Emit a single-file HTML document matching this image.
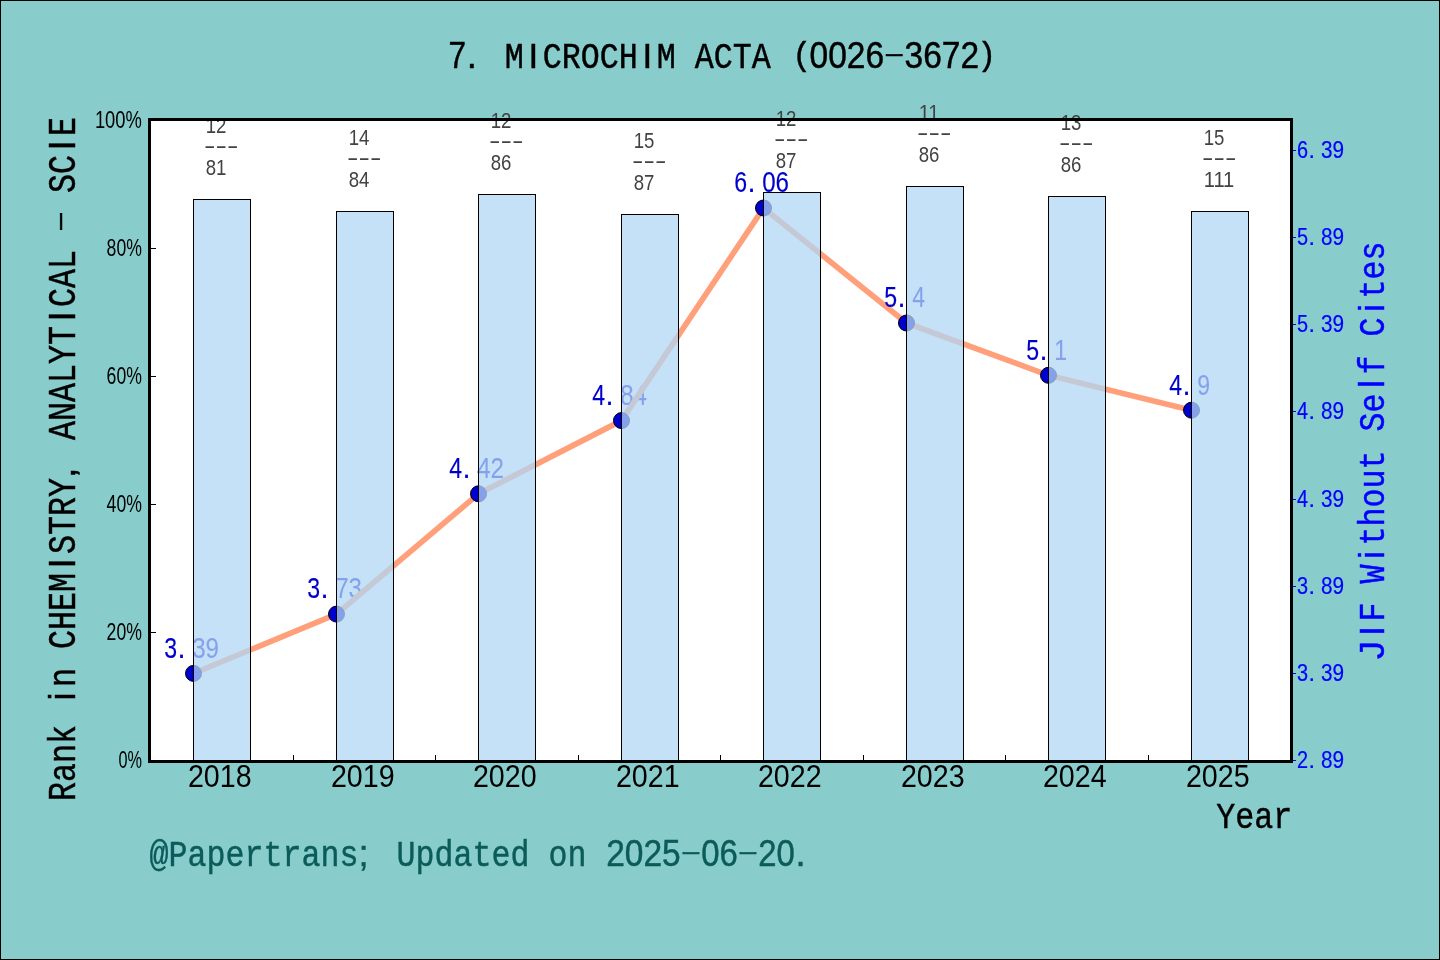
<!DOCTYPE html>
<html lang="en"><head><meta charset="utf-8"><title>7. MICROCHIM ACTA (0026-3672)</title>
<style>
html,body{margin:0;padding:0;background:#88cccc;overflow:hidden}
svg{display:block}text{white-space:pre}
.m{font-family:'Liberation Mono', 'DejaVu Sans Mono', monospace}
.s{font-family:'Liberation Sans', 'DejaVu Sans', sans-serif}
</style>
</head><body>
<svg width="1440" height="960" viewBox="0 0 1440 960">
<rect x="0" y="0" width="1440" height="960" fill="#88cccc"/>
<rect x="0.5" y="0.5" width="1439" height="959" fill="none" stroke="#000" stroke-width="1"/>
<rect x="149.5" y="119.5" width="1142.0" height="642.0" fill="#fff"/>
<text fill="#0000cd" stroke="#0000cd" stroke-width="0.15"><tspan class="s" x="164.18" y="657.75" font-size="29" textLength="12.84" lengthAdjust="spacingAndGlyphs">3</tspan><tspan class="s" x="177.6" y="657.75" font-size="29">.</tspan><tspan class="s" x="192.18" y="657.75" font-size="29" textLength="26.84" lengthAdjust="spacingAndGlyphs">39</tspan></text>
<line x1="193.5" y1="673.4" x2="336.5" y2="614.1" stroke="#ffa07a" stroke-width="5.7" stroke-linecap="round"/>
<text fill="#0000cd" stroke="#0000cd" stroke-width="0.15"><tspan class="s" x="307.18" y="598.49" font-size="29" textLength="12.84" lengthAdjust="spacingAndGlyphs">3</tspan><tspan class="s" x="320.6" y="598.49" font-size="29">.</tspan><tspan class="s" x="335.18" y="598.49" font-size="29" textLength="26.84" lengthAdjust="spacingAndGlyphs">73</tspan></text>
<line x1="336.5" y1="614.1" x2="478.5" y2="493.8" stroke="#ffa07a" stroke-width="5.7" stroke-linecap="round"/>
<text fill="#0000cd" stroke="#0000cd" stroke-width="0.15"><tspan class="s" x="449.18" y="478.23" font-size="29" textLength="12.84" lengthAdjust="spacingAndGlyphs">4</tspan><tspan class="s" x="462.6" y="478.23" font-size="29">.</tspan><tspan class="s" x="477.18" y="478.23" font-size="29" textLength="26.84" lengthAdjust="spacingAndGlyphs">42</tspan></text>
<line x1="478.5" y1="493.8" x2="621.5" y2="420.6" stroke="#ffa07a" stroke-width="5.7" stroke-linecap="round"/>
<text fill="#0000cd" stroke="#0000cd" stroke-width="0.15"><tspan class="s" x="592.18" y="405.03" font-size="29" textLength="12.84" lengthAdjust="spacingAndGlyphs">4</tspan><tspan class="s" x="605.6" y="405.03" font-size="29">.</tspan><tspan class="s" x="620.18" y="405.03" font-size="29" textLength="26.84" lengthAdjust="spacingAndGlyphs">84</tspan></text>
<line x1="621.5" y1="420.6" x2="763.5" y2="208.0" stroke="#ffa07a" stroke-width="5.7" stroke-linecap="round"/>
<text fill="#0000cd" stroke="#0000cd" stroke-width="0.15"><tspan class="s" x="734.18" y="192.39" font-size="29" textLength="12.84" lengthAdjust="spacingAndGlyphs">6</tspan><tspan class="s" x="747.6" y="192.39" font-size="29">.</tspan><tspan class="s" x="762.18" y="192.39" font-size="29" textLength="26.84" lengthAdjust="spacingAndGlyphs">06</tspan></text>
<line x1="763.5" y1="208.0" x2="906.5" y2="323.0" stroke="#ffa07a" stroke-width="5.7" stroke-linecap="round"/>
<text fill="#0000cd" stroke="#0000cd" stroke-width="0.15"><tspan class="s" x="884.18" y="307.43" font-size="29" textLength="12.84" lengthAdjust="spacingAndGlyphs">5</tspan><tspan class="s" x="897.6" y="307.43" font-size="29">.</tspan><tspan class="s" x="912.18" y="307.43" font-size="29" textLength="12.84" lengthAdjust="spacingAndGlyphs">4</tspan></text>
<line x1="906.5" y1="323.0" x2="1048.5" y2="375.3" stroke="#ffa07a" stroke-width="5.7" stroke-linecap="round"/>
<text fill="#0000cd" stroke="#0000cd" stroke-width="0.15"><tspan class="s" x="1026.18" y="359.71" font-size="29" textLength="12.84" lengthAdjust="spacingAndGlyphs">5</tspan><tspan class="s" x="1039.6" y="359.71" font-size="29">.</tspan><tspan class="s" x="1054.18" y="359.71" font-size="29" textLength="12.84" lengthAdjust="spacingAndGlyphs">1</tspan></text>
<line x1="1048.5" y1="375.3" x2="1191.5" y2="410.2" stroke="#ffa07a" stroke-width="5.7" stroke-linecap="round"/>
<text fill="#0000cd" stroke="#0000cd" stroke-width="0.15"><tspan class="s" x="1169.18" y="394.57" font-size="29" textLength="12.84" lengthAdjust="spacingAndGlyphs">4</tspan><tspan class="s" x="1182.6" y="394.57" font-size="29">.</tspan><tspan class="s" x="1197.18" y="394.57" font-size="29" textLength="12.84" lengthAdjust="spacingAndGlyphs">9</tspan></text>
<circle cx="193.5" cy="673.4" r="8" fill="#0000cd" stroke="#000" stroke-width="1"/>
<circle cx="336.5" cy="614.1" r="8" fill="#0000cd" stroke="#000" stroke-width="1"/>
<circle cx="478.5" cy="493.8" r="8" fill="#0000cd" stroke="#000" stroke-width="1"/>
<circle cx="621.5" cy="420.6" r="8" fill="#0000cd" stroke="#000" stroke-width="1"/>
<circle cx="763.5" cy="208.0" r="8" fill="#0000cd" stroke="#000" stroke-width="1"/>
<circle cx="906.5" cy="323.0" r="8" fill="#0000cd" stroke="#000" stroke-width="1"/>
<circle cx="1048.5" cy="375.3" r="8" fill="#0000cd" stroke="#000" stroke-width="1"/>
<circle cx="1191.5" cy="410.2" r="8" fill="#0000cd" stroke="#000" stroke-width="1"/>
<rect x="193.5" y="199.5" width="57.0" height="561.0" fill="#b2d7f5" fill-opacity="0.75" stroke="none"/>
<rect x="193.5" y="199.5" width="57.0" height="561.0" fill="none" stroke="#000" stroke-width="1"/>
<rect x="336.5" y="211.5" width="57.0" height="549.0" fill="#b2d7f5" fill-opacity="0.75" stroke="none"/>
<rect x="336.5" y="211.5" width="57.0" height="549.0" fill="none" stroke="#000" stroke-width="1"/>
<rect x="478.5" y="194.5" width="57.0" height="566.0" fill="#b2d7f5" fill-opacity="0.75" stroke="none"/>
<rect x="478.5" y="194.5" width="57.0" height="566.0" fill="none" stroke="#000" stroke-width="1"/>
<rect x="621.5" y="214.5" width="57.0" height="546.0" fill="#b2d7f5" fill-opacity="0.75" stroke="none"/>
<rect x="621.5" y="214.5" width="57.0" height="546.0" fill="none" stroke="#000" stroke-width="1"/>
<rect x="763.5" y="192.5" width="57.0" height="568.0" fill="#b2d7f5" fill-opacity="0.75" stroke="none"/>
<rect x="763.5" y="192.5" width="57.0" height="568.0" fill="none" stroke="#000" stroke-width="1"/>
<rect x="906.5" y="186.5" width="57.0" height="574.0" fill="#b2d7f5" fill-opacity="0.75" stroke="none"/>
<rect x="906.5" y="186.5" width="57.0" height="574.0" fill="none" stroke="#000" stroke-width="1"/>
<rect x="1048.5" y="196.5" width="57.0" height="564.0" fill="#b2d7f5" fill-opacity="0.75" stroke="none"/>
<rect x="1048.5" y="196.5" width="57.0" height="564.0" fill="none" stroke="#000" stroke-width="1"/>
<rect x="1191.5" y="211.5" width="57.0" height="549.0" fill="#b2d7f5" fill-opacity="0.75" stroke="none"/>
<rect x="1191.5" y="211.5" width="57.0" height="549.0" fill="none" stroke="#000" stroke-width="1"/>
<text class="s" font-size="21.4" fill="#424242"><tspan x="205.7" y="132.8" textLength="20.7" lengthAdjust="spacingAndGlyphs">12</tspan><tspan x="204.1" y="152.5" textLength="34.4" lengthAdjust="spacingAndGlyphs">---</tspan><tspan x="205.7" y="175.1" textLength="20.7" lengthAdjust="spacingAndGlyphs">81</tspan></text>
<text class="s" font-size="21.4" fill="#424242"><tspan x="348.7" y="144.8" textLength="20.7" lengthAdjust="spacingAndGlyphs">14</tspan><tspan x="347.1" y="164.5" textLength="34.4" lengthAdjust="spacingAndGlyphs">---</tspan><tspan x="348.7" y="187.1" textLength="20.7" lengthAdjust="spacingAndGlyphs">84</tspan></text>
<text class="s" font-size="21.4" fill="#424242"><tspan x="490.7" y="127.8" textLength="20.7" lengthAdjust="spacingAndGlyphs">12</tspan><tspan x="489.1" y="147.5" textLength="34.4" lengthAdjust="spacingAndGlyphs">---</tspan><tspan x="490.7" y="170.1" textLength="20.7" lengthAdjust="spacingAndGlyphs">86</tspan></text>
<text class="s" font-size="21.4" fill="#424242"><tspan x="633.7" y="147.8" textLength="20.7" lengthAdjust="spacingAndGlyphs">15</tspan><tspan x="632.1" y="167.5" textLength="34.4" lengthAdjust="spacingAndGlyphs">---</tspan><tspan x="633.7" y="190.1" textLength="20.7" lengthAdjust="spacingAndGlyphs">87</tspan></text>
<text class="s" font-size="21.4" fill="#424242"><tspan x="775.7" y="125.8" textLength="20.7" lengthAdjust="spacingAndGlyphs">12</tspan><tspan x="774.1" y="145.5" textLength="34.4" lengthAdjust="spacingAndGlyphs">---</tspan><tspan x="775.7" y="168.1" textLength="20.7" lengthAdjust="spacingAndGlyphs">87</tspan></text>
<text class="s" font-size="21.4" fill="#424242"><tspan x="918.7" y="119.8" textLength="20.7" lengthAdjust="spacingAndGlyphs">11</tspan><tspan x="917.1" y="139.5" textLength="34.4" lengthAdjust="spacingAndGlyphs">---</tspan><tspan x="918.7" y="162.1" textLength="20.7" lengthAdjust="spacingAndGlyphs">86</tspan></text>
<text class="s" font-size="21.4" fill="#424242"><tspan x="1060.7" y="129.8" textLength="20.7" lengthAdjust="spacingAndGlyphs">13</tspan><tspan x="1059.1" y="149.5" textLength="34.4" lengthAdjust="spacingAndGlyphs">---</tspan><tspan x="1060.7" y="172.1" textLength="20.7" lengthAdjust="spacingAndGlyphs">86</tspan></text>
<text class="s" font-size="21.4" fill="#424242"><tspan x="1203.7" y="144.8" textLength="20.7" lengthAdjust="spacingAndGlyphs">15</tspan><tspan x="1202.1" y="164.5" textLength="34.4" lengthAdjust="spacingAndGlyphs">---</tspan><tspan x="1203.7" y="187.1" textLength="30.6" lengthAdjust="spacingAndGlyphs">111</tspan></text>
<line x1="149.5" y1="760.5" x2="156.0" y2="760.5" stroke="#000" stroke-width="1"/>
<line x1="149.5" y1="632.5" x2="156.0" y2="632.5" stroke="#000" stroke-width="1"/>
<line x1="149.5" y1="504.5" x2="156.0" y2="504.5" stroke="#000" stroke-width="1"/>
<line x1="149.5" y1="376.5" x2="156.0" y2="376.5" stroke="#000" stroke-width="1"/>
<line x1="149.5" y1="248.5" x2="156.0" y2="248.5" stroke="#000" stroke-width="1"/>
<line x1="149.5" y1="120.5" x2="156.0" y2="120.5" stroke="#000" stroke-width="1"/>
<line x1="293.5" y1="761.5" x2="293.5" y2="755.0" stroke="#000" stroke-width="1"/>
<line x1="435.5" y1="761.5" x2="435.5" y2="755.0" stroke="#000" stroke-width="1"/>
<line x1="578.5" y1="761.5" x2="578.5" y2="755.0" stroke="#000" stroke-width="1"/>
<line x1="720.5" y1="761.5" x2="720.5" y2="755.0" stroke="#000" stroke-width="1"/>
<line x1="863.5" y1="761.5" x2="863.5" y2="755.0" stroke="#000" stroke-width="1"/>
<line x1="1005.5" y1="761.5" x2="1005.5" y2="755.0" stroke="#000" stroke-width="1"/>
<line x1="1148.5" y1="761.5" x2="1148.5" y2="755.0" stroke="#000" stroke-width="1"/>
<line x1="1291.5" y1="760.5" x2="1296.0" y2="760.5" stroke="#0000ff" stroke-width="1"/>
<line x1="1291.5" y1="673.5" x2="1296.0" y2="673.5" stroke="#0000ff" stroke-width="1"/>
<line x1="1291.5" y1="586.5" x2="1296.0" y2="586.5" stroke="#0000ff" stroke-width="1"/>
<line x1="1291.5" y1="499.5" x2="1296.0" y2="499.5" stroke="#0000ff" stroke-width="1"/>
<line x1="1291.5" y1="411.5" x2="1296.0" y2="411.5" stroke="#0000ff" stroke-width="1"/>
<line x1="1291.5" y1="324.5" x2="1296.0" y2="324.5" stroke="#0000ff" stroke-width="1"/>
<line x1="1291.5" y1="237.5" x2="1296.0" y2="237.5" stroke="#0000ff" stroke-width="1"/>
<line x1="1291.5" y1="150.5" x2="1296.0" y2="150.5" stroke="#0000ff" stroke-width="1"/>
<rect x="149.5" y="119.5" width="1142.0" height="642.0" fill="none" stroke="#000" stroke-width="3"/>
<text class="s" x="141.9" y="767.8" text-anchor="end" font-size="23.4" fill="#000" textLength="23.5" lengthAdjust="spacingAndGlyphs">0%</text>
<text class="s" x="141.9" y="639.8" text-anchor="end" font-size="23.4" fill="#000" textLength="35.3" lengthAdjust="spacingAndGlyphs">20%</text>
<text class="s" x="141.9" y="511.8" text-anchor="end" font-size="23.4" fill="#000" textLength="35.3" lengthAdjust="spacingAndGlyphs">40%</text>
<text class="s" x="141.9" y="383.8" text-anchor="end" font-size="23.4" fill="#000" textLength="35.3" lengthAdjust="spacingAndGlyphs">60%</text>
<text class="s" x="141.9" y="255.8" text-anchor="end" font-size="23.4" fill="#000" textLength="35.3" lengthAdjust="spacingAndGlyphs">80%</text>
<text class="s" x="141.9" y="127.8" text-anchor="end" font-size="23.4" fill="#000" textLength="47.0" lengthAdjust="spacingAndGlyphs">100%</text>
<text class="s" x="219.8" y="786.9" text-anchor="middle" font-size="30.5" fill="#000" textLength="63.7" lengthAdjust="spacingAndGlyphs">2018</text>
<text class="s" x="362.8" y="786.9" text-anchor="middle" font-size="30.5" fill="#000" textLength="63.7" lengthAdjust="spacingAndGlyphs">2019</text>
<text class="s" x="504.8" y="786.9" text-anchor="middle" font-size="30.5" fill="#000" textLength="63.7" lengthAdjust="spacingAndGlyphs">2020</text>
<text class="s" x="647.8" y="786.9" text-anchor="middle" font-size="30.5" fill="#000" textLength="63.7" lengthAdjust="spacingAndGlyphs">2021</text>
<text class="s" x="789.8" y="786.9" text-anchor="middle" font-size="30.5" fill="#000" textLength="63.7" lengthAdjust="spacingAndGlyphs">2022</text>
<text class="s" x="932.8" y="786.9" text-anchor="middle" font-size="30.5" fill="#000" textLength="63.7" lengthAdjust="spacingAndGlyphs">2023</text>
<text class="s" x="1074.8" y="786.9" text-anchor="middle" font-size="30.5" fill="#000" textLength="63.7" lengthAdjust="spacingAndGlyphs">2024</text>
<text class="s" x="1217.8" y="786.9" text-anchor="middle" font-size="30.5" fill="#000" textLength="63.7" lengthAdjust="spacingAndGlyphs">2025</text>
<text fill="#0000ff" stroke="#0000ff" stroke-width="0.2"><tspan class="s" x="1296.97" y="767.75" font-size="23.3" textLength="11.07" lengthAdjust="spacingAndGlyphs">2</tspan><tspan class="s" x="1308.5" y="767.75" font-size="23.3">.</tspan><tspan class="s" x="1320.97" y="767.75" font-size="23.3" textLength="23.07" lengthAdjust="spacingAndGlyphs">89</tspan></text>
<text fill="#0000ff" stroke="#0000ff" stroke-width="0.2"><tspan class="s" x="1296.97" y="680.75" font-size="23.3" textLength="11.07" lengthAdjust="spacingAndGlyphs">3</tspan><tspan class="s" x="1308.5" y="680.75" font-size="23.3">.</tspan><tspan class="s" x="1320.97" y="680.75" font-size="23.3" textLength="23.07" lengthAdjust="spacingAndGlyphs">39</tspan></text>
<text fill="#0000ff" stroke="#0000ff" stroke-width="0.2"><tspan class="s" x="1296.97" y="593.75" font-size="23.3" textLength="11.07" lengthAdjust="spacingAndGlyphs">3</tspan><tspan class="s" x="1308.5" y="593.75" font-size="23.3">.</tspan><tspan class="s" x="1320.97" y="593.75" font-size="23.3" textLength="23.07" lengthAdjust="spacingAndGlyphs">89</tspan></text>
<text fill="#0000ff" stroke="#0000ff" stroke-width="0.2"><tspan class="s" x="1296.97" y="506.75" font-size="23.3" textLength="11.07" lengthAdjust="spacingAndGlyphs">4</tspan><tspan class="s" x="1308.5" y="506.75" font-size="23.3">.</tspan><tspan class="s" x="1320.97" y="506.75" font-size="23.3" textLength="23.07" lengthAdjust="spacingAndGlyphs">39</tspan></text>
<text fill="#0000ff" stroke="#0000ff" stroke-width="0.2"><tspan class="s" x="1296.97" y="418.75" font-size="23.3" textLength="11.07" lengthAdjust="spacingAndGlyphs">4</tspan><tspan class="s" x="1308.5" y="418.75" font-size="23.3">.</tspan><tspan class="s" x="1320.97" y="418.75" font-size="23.3" textLength="23.07" lengthAdjust="spacingAndGlyphs">89</tspan></text>
<text fill="#0000ff" stroke="#0000ff" stroke-width="0.2"><tspan class="s" x="1296.97" y="331.75" font-size="23.3" textLength="11.07" lengthAdjust="spacingAndGlyphs">5</tspan><tspan class="s" x="1308.5" y="331.75" font-size="23.3">.</tspan><tspan class="s" x="1320.97" y="331.75" font-size="23.3" textLength="23.07" lengthAdjust="spacingAndGlyphs">39</tspan></text>
<text fill="#0000ff" stroke="#0000ff" stroke-width="0.2"><tspan class="s" x="1296.97" y="244.75" font-size="23.3" textLength="11.07" lengthAdjust="spacingAndGlyphs">5</tspan><tspan class="s" x="1308.5" y="244.75" font-size="23.3">.</tspan><tspan class="s" x="1320.97" y="244.75" font-size="23.3" textLength="23.07" lengthAdjust="spacingAndGlyphs">89</tspan></text>
<text fill="#0000ff" stroke="#0000ff" stroke-width="0.2"><tspan class="s" x="1296.97" y="157.75" font-size="23.3" textLength="11.07" lengthAdjust="spacingAndGlyphs">6</tspan><tspan class="s" x="1308.5" y="157.75" font-size="23.3">.</tspan><tspan class="s" x="1320.97" y="157.75" font-size="23.3" textLength="23.07" lengthAdjust="spacingAndGlyphs">39</tspan></text>
<text fill="#000" stroke="#000" stroke-width="0.45"><tspan class="s" x="448.53" y="68.1" font-size="36.6" textLength="17.54" lengthAdjust="spacingAndGlyphs">7</tspan><tspan class="s" x="466.8" y="68.1" font-size="36.6">.</tspan><tspan class="m" x="485.8" y="68.1" font-size="36.5"> </tspan><tspan class="m" x="504.8" y="68.1" font-size="36.5" textLength="19" lengthAdjust="spacingAndGlyphs">M</tspan><tspan class="s" x="528.44" y="68.1" font-size="34.97">I</tspan><tspan class="m" x="542.8" y="68.1" font-size="36.5" textLength="95" lengthAdjust="spacingAndGlyphs">CROCH</tspan><tspan class="s" x="642.44" y="68.1" font-size="34.97">I</tspan><tspan class="m" x="656.8" y="68.1" font-size="36.5" textLength="19" lengthAdjust="spacingAndGlyphs">M</tspan><tspan class="m" x="675.8" y="68.1" font-size="36.5"> </tspan><tspan class="m" x="694.8" y="68.1" font-size="36.5" textLength="76" lengthAdjust="spacingAndGlyphs">ACTA</tspan><tspan class="m" x="770.8" y="68.1" font-size="36.5"> </tspan><tspan class="m" x="792.3" y="64.6" font-size="32.48" textLength="19" lengthAdjust="spacingAndGlyphs">(</tspan><tspan class="s" x="809.53" y="68.1" font-size="36.6" textLength="74.54" lengthAdjust="spacingAndGlyphs">0026</tspan><tspan class="s" x="883.56" y="61.15" font-size="22.69" textLength="21.47" lengthAdjust="spacingAndGlyphs">-</tspan><tspan class="s" x="904.53" y="68.1" font-size="36.6" textLength="74.54" lengthAdjust="spacingAndGlyphs">3672</tspan><tspan class="m" x="977.3" y="64.6" font-size="32.48" textLength="19" lengthAdjust="spacingAndGlyphs">)</tspan></text>
<text fill="#000" stroke="#000" stroke-width="0.45"><tspan class="m" x="1216.3" y="827.9" font-size="37.5" textLength="76" lengthAdjust="spacingAndGlyphs">Year</tspan></text>
<text fill="#0b5b5b" stroke="#0b5b5b" stroke-width="0.45"><tspan class="m" x="149.5" y="865.9" font-size="36.5" textLength="209" lengthAdjust="spacingAndGlyphs">@Papertrans</tspan><tspan class="s" x="358.5" y="865.9" font-size="36.5">;</tspan><tspan class="m" x="377.5" y="865.9" font-size="36.5"> </tspan><tspan class="m" x="396.5" y="865.9" font-size="36.5" textLength="133" lengthAdjust="spacingAndGlyphs">Updated</tspan><tspan class="m" x="529.5" y="865.9" font-size="36.5"> </tspan><tspan class="m" x="548.5" y="865.9" font-size="36.5" textLength="38" lengthAdjust="spacingAndGlyphs">on</tspan><tspan class="m" x="586.5" y="865.9" font-size="36.5"> </tspan><tspan class="s" x="606.23" y="865.9" font-size="36.5" textLength="74.54" lengthAdjust="spacingAndGlyphs">2025</tspan><tspan class="s" x="680.26" y="858.97" font-size="22.63" textLength="21.47" lengthAdjust="spacingAndGlyphs">-</tspan><tspan class="s" x="701.23" y="865.9" font-size="36.5" textLength="36.54" lengthAdjust="spacingAndGlyphs">06</tspan><tspan class="s" x="737.26" y="858.97" font-size="22.63" textLength="21.47" lengthAdjust="spacingAndGlyphs">-</tspan><tspan class="s" x="758.23" y="865.9" font-size="36.5" textLength="36.54" lengthAdjust="spacingAndGlyphs">20</tspan><tspan class="s" x="795.5" y="865.9" font-size="36.5">.</tspan></text>
<g transform="translate(74.6,801) rotate(-90)"><text fill="#000" stroke="#000" stroke-width="0.45"><tspan class="m" x="0" y="0" font-size="38" textLength="76" lengthAdjust="spacingAndGlyphs">Rank</tspan><tspan class="m" x="76" y="0" font-size="38"> </tspan><tspan class="s" x="100.46" y="0" font-size="36.4">i</tspan><tspan class="m" x="114" y="0" font-size="38" textLength="19" lengthAdjust="spacingAndGlyphs">n</tspan><tspan class="m" x="133" y="0" font-size="38"> </tspan><tspan class="m" x="152" y="0" font-size="38" textLength="76" lengthAdjust="spacingAndGlyphs">CHEM</tspan><tspan class="s" x="232.44" y="0" font-size="36.4">I</tspan><tspan class="m" x="247" y="0" font-size="38" textLength="76" lengthAdjust="spacingAndGlyphs">STRY</tspan><tspan class="s" x="323" y="0" font-size="37.5">,</tspan><tspan class="m" x="342" y="0" font-size="38"> </tspan><tspan class="m" x="361" y="0" font-size="38" textLength="114" lengthAdjust="spacingAndGlyphs">ANALYT</tspan><tspan class="s" x="479.44" y="0" font-size="36.4">I</tspan><tspan class="m" x="494" y="0" font-size="38" textLength="57" lengthAdjust="spacingAndGlyphs">CAL</tspan><tspan class="m" x="551" y="0" font-size="38"> </tspan><tspan class="s" x="568.76" y="-7.12" font-size="23.25" textLength="21.47" lengthAdjust="spacingAndGlyphs">-</tspan><tspan class="m" x="589" y="0" font-size="38"> </tspan><tspan class="m" x="608" y="0" font-size="38" textLength="38" lengthAdjust="spacingAndGlyphs">SC</tspan><tspan class="s" x="650.44" y="0" font-size="36.4">I</tspan><tspan class="m" x="665" y="0" font-size="38" textLength="19" lengthAdjust="spacingAndGlyphs">E</tspan></text></g>
<g transform="translate(1384.4,659.5) rotate(-90)"><text fill="#0000ff" stroke="#0000ff" stroke-width="0.45"><tspan class="s" x="0.52" y="0" font-size="35.92">J</tspan><tspan class="s" x="23.51" y="0" font-size="35.92">I</tspan><tspan class="m" x="38" y="0" font-size="37.5" textLength="19" lengthAdjust="spacingAndGlyphs">F</tspan><tspan class="m" x="57" y="0" font-size="37.5"> </tspan><tspan class="m" x="76" y="0" font-size="37.5" textLength="19" lengthAdjust="spacingAndGlyphs">W</tspan><tspan class="s" x="100.51" y="0" font-size="35.92">i</tspan><tspan class="m" x="114" y="0" font-size="37.5" textLength="95" lengthAdjust="spacingAndGlyphs">thout</tspan><tspan class="m" x="209" y="0" font-size="37.5"> </tspan><tspan class="m" x="228" y="0" font-size="37.5" textLength="38" lengthAdjust="spacingAndGlyphs">Se</tspan><tspan class="s" x="271.51" y="0" font-size="35.92">l</tspan><tspan class="m" x="285" y="0" font-size="37.5" textLength="19" lengthAdjust="spacingAndGlyphs">f</tspan><tspan class="m" x="304" y="0" font-size="37.5"> </tspan><tspan class="m" x="323" y="0" font-size="37.5" textLength="19" lengthAdjust="spacingAndGlyphs">C</tspan><tspan class="s" x="347.51" y="0" font-size="35.92">i</tspan><tspan class="m" x="361" y="0" font-size="37.5" textLength="57" lengthAdjust="spacingAndGlyphs">tes</tspan></text></g>
</svg>
</body></html>
